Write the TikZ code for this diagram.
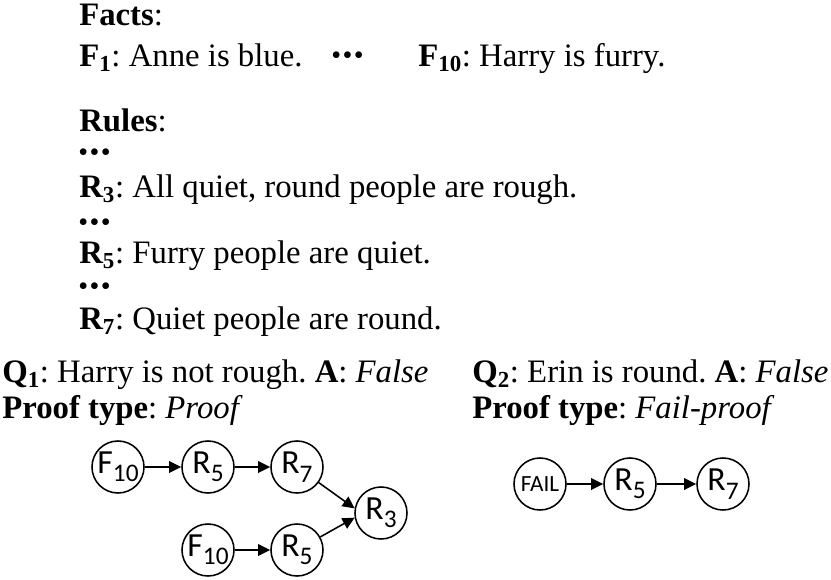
\documentclass[tikz,border=0pt]{standalone}
\usepackage{fontspec}
\setmainfont{Liberation Serif}
\newfontfamily\nodefont{Carlito}
\usetikzlibrary{arrows.meta,positioning}

% label of a proof node: letter with a large, low subscript
\newcommand{\lbl}[2]{#1\raisebox{-0.25em}{\fontsize{18}{18}\selectfont #2}}

\tikzset{
  txt/.style={anchor=base west, inner sep=0pt, font=\fontsize{23.3}{28}\selectfont\frenchspacing},
  dotrow/.style={anchor=base west, inner sep=0pt, font=\fontsize{20}{20}\selectfont},
  proofnode/.style={circle, draw, line width=1.1pt, minimum size=1.3cm, inner sep=0pt,
    font=\nodefont\fontsize{24}{24}\selectfont},
  failnode/.style={proofnode, font=\nodefont\fontsize{16.5}{17}\selectfont},
  proofedge/.style={-{Triangle[length=3mm, width=2.9mm]}, line width=1.1pt}
}

\begin{document}
\begin{tikzpicture}[x=0.025cm, y=-0.025cm]
  \useasboundingbox (0,0) rectangle (831,580);
  %--------------- Facts ---------------
  \node[txt] (facts) at (79,25) {\textbf{Facts}:};
  \node[txt] (fone) at (79,66) {\textbf{F\textsubscript{1}}: Anne is blue.};
  \node[dotrow] (fdots) at (331,64) {\textbullet\kern1pt\textbullet\kern1pt\textbullet};
  \node[txt] (ften) at (418,66) {\textbf{F\textsubscript{10}}: Harry is furry.};
  %--------------- Rules ---------------
  \node[txt] (rules) at (79,131) {\textbf{Rules}:};
  \node[dotrow] (rdotsa) at (78,161) {\textbullet\kern1pt\textbullet\kern1pt\textbullet};
  \node[txt] (rthree) at (79,197) {\textbf{R\textsubscript{3}}: All quiet, round people are rough.};
  \node[dotrow] (rdotsb) at (78,231) {\textbullet\kern1pt\textbullet\kern1pt\textbullet};
  \node[txt] (rfive) at (79,263) {\textbf{R\textsubscript{5}}: Furry people are quiet.};
  \node[dotrow] (rdotsc) at (78,295) {\textbullet\kern1pt\textbullet\kern1pt\textbullet};
  \node[txt] (rseven) at (79,329) {\textbf{R\textsubscript{7}}: Quiet people are round.};
  %--------------- Question 1 ---------------
  \node[txt] (qone) at (2,382) {\textbf{Q\textsubscript{1}}: Harry is not rough. \textbf{A}: \textit{False}};
  \node[txt] (ptone) at (2,418) {\textbf{Proof type}: \textit{Proof}};
  %--------------- Question 2 ---------------
  \node[txt] (qtwo) at (472,382) {\textbf{Q\textsubscript{2}}: Erin is round. \textbf{A}: \textit{False}};
  \node[txt] (pttwo) at (472,418) {\textbf{Proof type}: \textit{Fail-proof}};
  %--------------- proof of Q1 ---------------
  \node[proofnode] (fa) at (118,467) {\lbl{F}{10}};
  \node[proofnode] (ra) at (208,467) {\lbl{R}{5}};
  \node[proofnode] (rb) at (297,467) {\lbl{R}{7}};
  \node[proofnode] (rc) at (381,513) {\lbl{R}{3}};
  \node[proofnode] (fb) at (208,550) {\lbl{F}{10}};
  \node[proofnode] (rd) at (297,550) {\lbl{R}{5}};
  \draw[proofedge] (fa) -- (ra);
  \draw[proofedge] (ra) -- (rb);
  \draw[proofedge] (rb) -- (rc.170);
  \draw[proofedge] (fb) -- (rd);
  \draw[proofedge] (rd) -- (rc.190);
  %--------------- proof of Q2 ---------------
  \node[failnode] (fail) at (540,484) {FAIL};
  \node[proofnode] (re) at (630,484) {\lbl{R}{5}};
  \node[proofnode] (rf) at (723,484) {\lbl{R}{7}};
  \draw[proofedge] (fail) -- (re);
  \draw[proofedge] (re) -- (rf);
\end{tikzpicture}
\end{document}
